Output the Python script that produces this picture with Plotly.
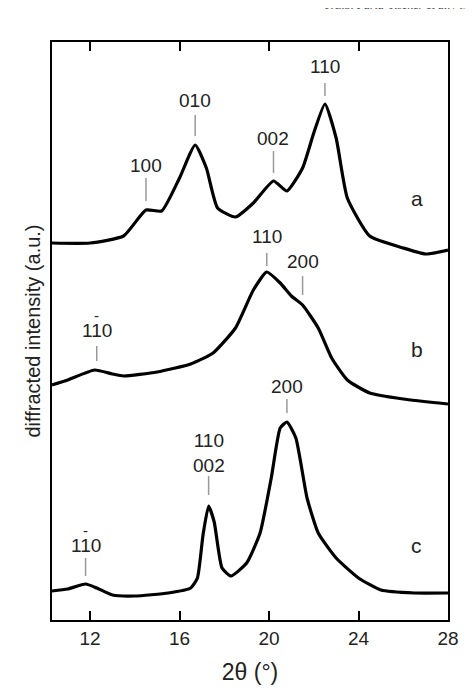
import plotly.graph_objects as go

# 2theta positions and intensities (arbitrary units, offset traces)
xa = [10.3, 12, 13.5, 14.5, 15.2, 16, 16.7, 17.2, 17.7, 18.5, 19.3, 20.2, 20.8, 21.5, 22.0, 22.5, 23.0, 23.5, 24.5, 26, 27, 28]
ya = [377, 377, 384, 410, 409, 442, 475, 452, 412, 403, 417, 439, 429, 452, 487, 516, 482, 422, 384, 372, 366, 370]
xb = [10.3, 11, 12.2, 13, 13.5, 15, 16.5, 17.5, 18.5, 19.3, 19.9, 20.5, 21, 21.5, 22.2, 22.8, 23.5, 24.5, 26, 28]
yb = [235, 240, 250, 246, 244, 248, 256, 267, 292, 330, 348, 337, 324, 315, 292, 262, 240, 227, 221, 216]
xc = [10.3, 11, 11.8, 12.3, 13, 14, 15.5, 16.5, 16.8, 17.05, 17.3, 17.55, 17.9, 18.3, 19, 19.6, 20.1, 20.5, 20.8, 21.2, 21.7, 22.2, 23, 24, 25, 26.5, 28]
yc = [29, 31, 36, 32, 25, 24, 27, 32, 42, 85, 114, 98, 52, 44, 57, 87, 142, 192, 198, 182, 122, 87, 62, 42, 30, 27, 27]

# peak labels: (x, text, label y, tick bottom, tick top, macron)
peaks = [
    (14.5, "100", 455, 419, 442, False),
    (16.7, "010", 520, 484, 505, False),
    (20.2, "002", 482, 447, 469, False),
    (22.5, "110", 554, 524, 537, False),
    (19.9, "110", 384, 354, 367, False),
    (21.5, "200", 359, 325, 344, False),
    (12.3, "110", 290, 259, 274, True),
    (20.8, "200", 234, 207, 221, False),
    (17.3, "110<br>002", 167, 125, 144, False),
    (11.8, "110", 75, 44, 62, True),
]
curve_labels = [("a", 422), ("b", 271), ("c", 75)]
FONT = "Liberation Sans, Arial"

fig = go.Figure()
for x, y in [(xa, ya), (xb, yb), (xc, yc)]:
    fig.add_trace(go.Scatter(x=x, y=y, mode="lines", line=dict(color="black", width=3.2, shape="spline", smoothing=0.5), showlegend=False, hoverinfo="skip"))

for x, t, ly, y0, y1, mac in peaks:
    fig.add_shape(type="line", x0=x, x1=x, y0=y0, y1=y1, line=dict(color="#999", width=1.5))
    fig.add_annotation(x=x, y=ly, text=t, showarrow=False, font=dict(size=19, color="#222", family=FONT))
    if mac:
        fig.add_annotation(x=x, y=ly, text="-", showarrow=False, yshift=15, xshift=0, font=dict(size=15, color="#222", family=FONT))
for t, ly in curve_labels:
    fig.add_annotation(x=26.6, y=ly, text=t, showarrow=False, font=dict(size=21, color="#222", family=FONT))

fig.add_annotation(xref="paper", yref="paper", x=1.075, y=1.08, xanchor="right", yanchor="top",
                   text="<i>F.C.S. Faria-Tischer et al. / Ma</i>",
                   showarrow=False, font=dict(size=12, color="#444", family="Liberation Serif, serif"))

fig.update_layout(
    width=474, height=691, margin=dict(l=44, r=34, t=34, b=79),
    plot_bgcolor="white", paper_bgcolor="white",
    xaxis=dict(range=[10.3, 28], tickvals=[12, 16, 20, 24, 28], ticks="inside", ticklen=9, tickwidth=2, tickcolor="black",
               showline=True, linecolor="black", linewidth=2, mirror="ticks", showgrid=False, zeroline=False,
               tickfont=dict(size=19, color="#222", family=FONT),
               title=dict(text="2θ (°)", font=dict(size=23, color="#222", family=FONT), standoff=16)),
    yaxis=dict(range=[0, 578], showticklabels=False, ticks="", showline=True, linecolor="black", linewidth=2, mirror=True,
               showgrid=False, zeroline=False,
               title=dict(text="diffracted intensity (a.u.)", font=dict(size=20, color="#222", family=FONT), standoff=4)),
)
fig.write_html("out.html")
